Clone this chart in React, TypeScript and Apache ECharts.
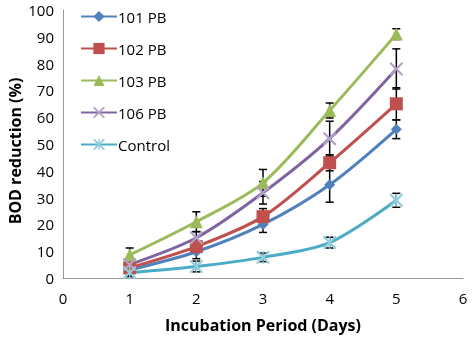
import React, { useEffect, useRef } from "react";
import * as echarts from "echarts";

// Incubation days
const days = [1, 2, 3, 4, 5];

// BOD reduction (%) per isolate
const pb101 = [3, 9.8, 20, 34.8, 55.5];
const pb102 = [3.8, 11.7, 22.9, 43, 65];
const pb103 = [8.6, 21, 35.5, 62.5, 91];
const pb106 = [5, 15, 31.8, 52, 78];
const control = [2, 4.3, 7.7, 13.2, 29];

// Standard deviations (error bars)
const err101 = [2, 2.6, 3, 6.5, 3.5];
const err102 = [2, 2, 3, 3, 6];
const err103 = [2.6, 3.7, 5, 2.8, 2];
const err106 = [2, 2.3, 4.2, 6.5, 7.5];
const errControl = [1.5, 2, 1.6, 2, 2.6];

const seriesNames = ["101 PB", "102 PB", "103 PB", "106 PB", "Control"];
const colors = ["#4F81BD", "#C0504D", "#9BBB59", "#8064A2", "#4BACC6"];
const yTitle = "BOD reduction (%)";

const xPath =
  "path://M0,0 L1.2,0 L5,3.8 L8.8,0 L10,0 L10,1.2 L6.2,5 L10,8.8 L10,10 L8.8,10 L5,6.2 L1.2,10 L0,10 L0,8.8 L3.8,5 L0,1.2 Z";
const starPath =
  "path://M0,0 L1.2,0 L4.5,3.3 L4.5,0 L5.5,0 L5.5,3.3 L8.8,0 L10,0 L10,1.2 L6.2,5 L10,8.8 L10,10 L8.8,10 L5.5,6.7 L5.5,10 L4.5,10 L4.5,6.7 L1.2,10 L0,10 L0,8.8 L3.8,5 L0,1.2 Z";

export default function App() {
  const ref = useRef<HTMLDivElement>(null);

  useEffect(() => {
    if (!ref.current) return;
    const chart = echarts.init(ref.current, undefined, { renderer: "svg" });

    const values = [pb101, pb102, pb103, pb106, control];
    const errors = [err101, err102, err103, err106, errControl];
    const symbols = ["diamond", "rect", "triangle", xPath, starPath];
    const symbolSizes = [11, 13, 13, 13, 13];
    const symbolColors = [colors[0], colors[1], colors[2], "#B3A2C7", "#93CDDD"];

    const errData: number[][] = [];
    values.forEach((vals, s) => {
      vals.forEach((v, i) => {
        errData.push([days[i], v - errors[s][i], v + errors[s][i]]);
      });
    });

    const lineSeries = values.map((vals, s) => ({
      name: seriesNames[s],
      type: "line",
      smooth: 0.3,
      data: vals.map((v, i) => [days[i], v]),
      symbol: symbols[s],
      symbolSize: symbolSizes[s],
      showAllSymbol: true,
      z: 3,
      lineStyle: { color: colors[s], width: 3 },
      itemStyle: { color: symbolColors[s], borderWidth: 0 },
    }));

    chart.setOption({
      animation: false,
      textStyle: { fontFamily: "Open Sans" },
      grid: { left: 63, right: 11, top: 10, bottom: 69, outerBoundsMode: "none" },
      graphic: [
        {
          type: "text",
          x: 15,
          y: 151,
          rotation: Math.PI / 2,
          style: {
            text: yTitle,
            fontSize: 16,
            fontWeight: "bold",
            fontFamily: "Open Sans",
            fill: "#000",
            align: "center",
            verticalAlign: "middle",
          },
        },
      ],
      legend: {
        left: 80,
        top: 9,
        padding: 0,
        orient: "vertical",
        itemWidth: 36,
        itemHeight: 14,
        itemGap: 17,
        data: seriesNames,
        textStyle: { fontSize: 15, color: "#000", fontFamily: "Open Sans", padding: [0, 0, 0, -4] },
      },
      xAxis: {
        type: "value",
        min: 0,
        max: 6,
        interval: 1,
        name: "Incubation Period (Days)",
        nameLocation: "middle",
        nameGap: 39,
        nameTextStyle: { fontSize: 16, fontWeight: "bold", color: "#000", fontFamily: "Open Sans" },
        splitLine: { show: false },
        axisTick: { show: false },
        axisLine: { lineStyle: { color: "#999", width: 1 } },
        axisLabel: { fontSize: 15, color: "#000", margin: 12, showMaxLabel: true },
      },
      yAxis: {
        type: "value",
        min: 0,
        max: 100,
        interval: 10,
        splitLine: { show: false },
        axisTick: { show: false },
        axisLine: { show: true, lineStyle: { color: "#999", width: 1 } },
        axisLabel: { fontSize: 15, color: "#000", margin: 9 },
      },
      series: [
        {
          type: "custom",
          z: 2,
          data: errData,
          encode: { x: 0, y: [1, 2] },
          renderItem: (params: any, api: any) => {
            const x = api.value(0);
            const lo = api.coord([x, api.value(1)]);
            const hi = api.coord([x, api.value(2)]);
            const w = 4;
            const style = { stroke: "#000", lineWidth: 1.5 };
            return {
              type: "group",
              children: [
                { type: "line", shape: { x1: lo[0], y1: lo[1], x2: hi[0], y2: hi[1] }, style },
                { type: "line", shape: { x1: lo[0] - w, y1: lo[1], x2: lo[0] + w, y2: lo[1] }, style },
                { type: "line", shape: { x1: hi[0] - w, y1: hi[1], x2: hi[0] + w, y2: hi[1] }, style },
              ],
            };
          },
        },
        ...lineSeries,
      ],
    });

    return () => chart.dispose();
  }, []);

  return (
    <div
      ref={ref}
      style={{ position: "fixed", left: 0, top: 0, width: 474, height: 347 }}
    />
  );
}
